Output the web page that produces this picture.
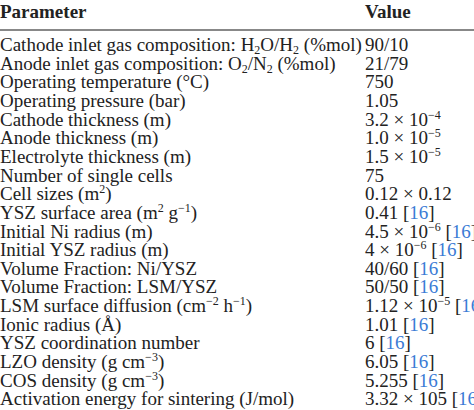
<!DOCTYPE html>
<html><head><meta charset="utf-8">
<script src="https://cdn.jsdelivr.net/npm/chart.js@4"></script>
<style>
body{margin:0;background:#fff;width:474px;height:410px;overflow:hidden;font-family:"Liberation Serif","DejaVu Serif",serif;color:#222;}
.row{position:absolute;left:0;font-size:19px;white-space:nowrap;line-height:20px;}
.v{position:absolute;left:365px;font-size:19px;white-space:nowrap;line-height:20px;}
.ref{color:#3a7bd5;}
.h{font-weight:bold;}
#rule{position:absolute;left:0;top:29px;width:474px;height:2px;background:#888;}
sub,sup{font-size:12px;line-height:0;vertical-align:baseline;position:relative;}
sub{top:3px;} sup{top:-7px;}
</style></head><body>
<div id="rule"></div>
<div id="t"></div>
<script>
const params = ["Cathode inlet gas composition: H<sub>2</sub>O/H<sub>2</sub> (%mol)","Anode inlet gas composition: O<sub>2</sub>/N<sub>2</sub> (%mol)","Operating temperature (°C)","Operating pressure (bar)","Cathode thickness (m)","Anode thickness (m)","Electrolyte thickness (m)","Number of single cells","Cell sizes (m<sup>2</sup>)","YSZ surface area (m<sup>2</sup> g<sup>−1</sup>)","Initial Ni radius (m)","Initial YSZ radius (m)","Volume Fraction: Ni/YSZ","Volume Fraction: LSM/YSZ","LSM surface diffusion (cm<sup>−2</sup> h<sup>−1</sup>)","Ionic radius (Å)","YSZ coordination number","LZO density (g cm<sup>−3</sup>)","COS density (g cm<sup>−3</sup>)","Activation energy for sintering (J/mol)"];
const values = ["90/10","21/79","750","1.05","3.2 × 10<sup>−4</sup>","1.0 × 10<sup>−5</sup>","1.5 × 10<sup>−5</sup>","75","0.12 × 0.12","0.41","4.5 × 10<sup>−6</sup>","4 × 10<sup>−6</sup>","40/60","50/50","1.12 × 10<sup>−5</sup>","1.01","6","6.05","5.255","3.32 × 105"];
const refs = [0,0,0,0,0,0,0,0,0,1,1,1,1,1,1,1,1,1,1,1];
const t=document.getElementById('t');
let html='<div class="row h" style="top:2px">Parameter</div><div class="v h" style="top:2px">Value</div>';
params.forEach((p,i)=>{const y=35+i*18.65;
html+=`<div class="row" style="top:${y}px">${p}</div><div class="v" style="top:${y}px">${values[i]}${refs[i]?' [<span class="ref">16</span>]':''}</div>`;});
t.innerHTML=html;
</script>
</body></html>
